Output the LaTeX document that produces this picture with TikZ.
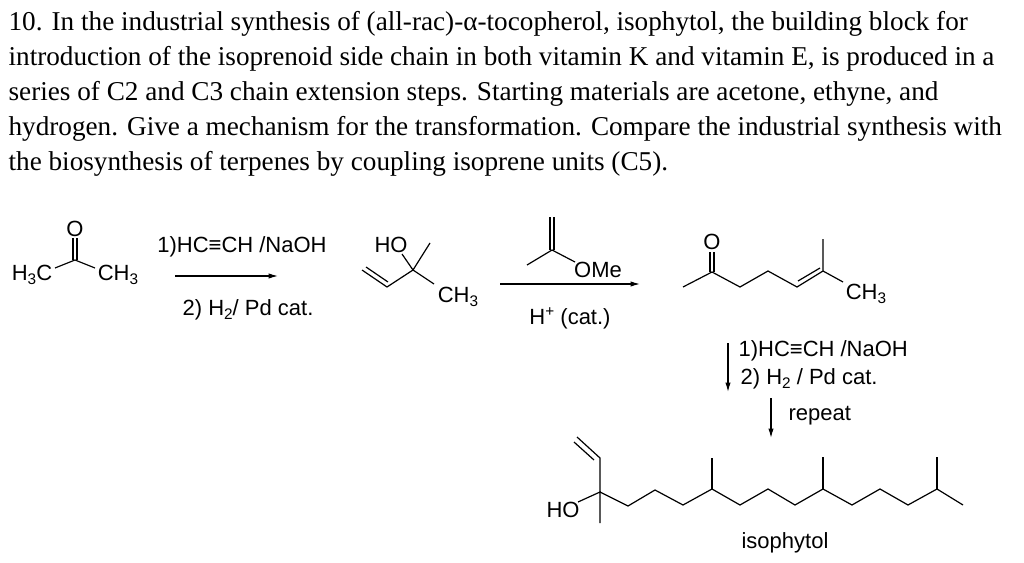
\documentclass[tikz,border=0pt]{standalone}
\usepackage{fontspec}
\usetikzlibrary{arrows.meta}
\setmainfont{Liberation Serif}
\newfontfamily\chem{Liberation Sans}
\newcommand\mysub[1]{\raisebox{-0.35ex}{\fontsize{11.5}{12}\selectfont #1}}
\newcommand\mysup[1]{\raisebox{0.7ex}{\fontsize{11.5}{12}\selectfont #1}}
\begin{document}
\begin{tikzpicture}[x=0.75pt,y=-0.75pt,line width=0.9pt,
  hd/.style={anchor=base west,inner sep=0,font=\fontsize{20.4}{24}\selectfont},
  lb/.style={inner sep=0,font=\chem\fontsize{16.5}{19}\selectfont},
  rx/.style={-{Latex[length=7pt,width=4pt]}}]
\useasboundingbox (0,0) rectangle (1024,563);
\node[hd] (h1) at (8,31) {10. In the industrial synthesis of (all-rac)-α-tocopherol, isophytol, the building block for};
\node[hd] (h2) at (8,66) {introduction of the isoprenoid side chain in both vitamin K and vitamin E, is produced in a};
\node[hd] (h3) at (8,101) {series of C2 and C3 chain extension steps. Starting materials are acetone, ethyne, and};
\node[hd] (h4) at (8,136) {hydrogen. Give a mechanism for the transformation. Compare the industrial synthesis with};
\node[hd] (h5) at (8,171) {the biosynthesis of terpenes by coupling isoprene units (C5).};
% acetone
\node[lb] (a1) at (32,275) {H\mysub{3}C};
\node[lb] (a2) at (118,275) {CH\mysub{3}};
\node[lb] (ao) at (75,229) {O};
\coordinate (ac) at (75,260);
\draw (55,268) -- (ac) -- (95,268);
\draw (73,238) -- (73,260) (77,238) -- (77,260);
% arrow 1
\coordinate (r1a) at (175,276); \coordinate (r1b) at (278,276);
\draw[rx] (r1a) -- (r1b);
\node[lb] (t1) at (242,247) {1)HC≡CH /NaOH};
\node[lb] (t2) at (248,310) {2) H\mysub{2}/ Pd cat.};
% methylbutenol
\node[lb] (bo) at (391,245) {HO};
\node[lb] (bm) at (458,297) {CH\mysub{3}};
\coordinate (bq) at (413,270);
\draw (402,254) -- (bq) -- (430,243);
\draw (bq) -- (434,284);
\draw (bq) -- (387,287) -- (362,270);
\draw (388,282) -- (366,267);
% arrow 2
\draw[rx] (500,284) -- (640,284);
\node[lb] (c1) at (598,270) {OMe};
\coordinate (cc) at (552,250);
\draw (527,265) -- (cc) -- (575,262);
\draw (550,217) -- (550,250) (554,217) -- (554,250);
\node[lb] (c2) at (570,318) {H\mysup{+} (cat.)};
% ketone
\node[lb] (ko) at (712,242) {O};
\node[lb] (km) at (866,294) {CH\mysub{3}};
\draw (683,287) -- (712,272) -- (740,287) -- (768,271) -- (797,287) -- (823,271) -- (823,239);
\draw (823,271) -- (843,282);
\draw (710,252) -- (710,272) (714,252) -- (714,272);
\draw (798,281) -- (820,268);
% vertical arrows
\draw[rx] (728,343) -- (728,392);
\node[lb,anchor=west] (v1) at (738,351) {1)HC≡CH /NaOH};
\node[lb,anchor=west] (v2) at (740,379) {2) H\mysub{2} / Pd cat.};
\draw[rx] (771,398) -- (771,438);
\node[lb,anchor=west] (v3) at (788,416) {repeat};
% isophytol
\node[lb] (io) at (563,510) {HO};
\coordinate (iq) at (600,492);
\draw (578,502) -- (iq) -- (600,523);
\draw (iq) -- (600,458) -- (577,437);
\draw (594,460) -- (574,442);
\draw (iq) -- (628,506) -- (655,490) -- (683,505) -- (712,489) -- (740,505) -- (768,489) -- (795,505) -- (823,489) -- (852,505) -- (880,489) -- (908,505) -- (937,489) -- (963,505);
\draw (712,489) -- (712,458) (823,489) -- (823,457) (937,489) -- (937,457);
\node[lb] (il) at (785,543) {isophytol};
\end{tikzpicture}
\end{document}
